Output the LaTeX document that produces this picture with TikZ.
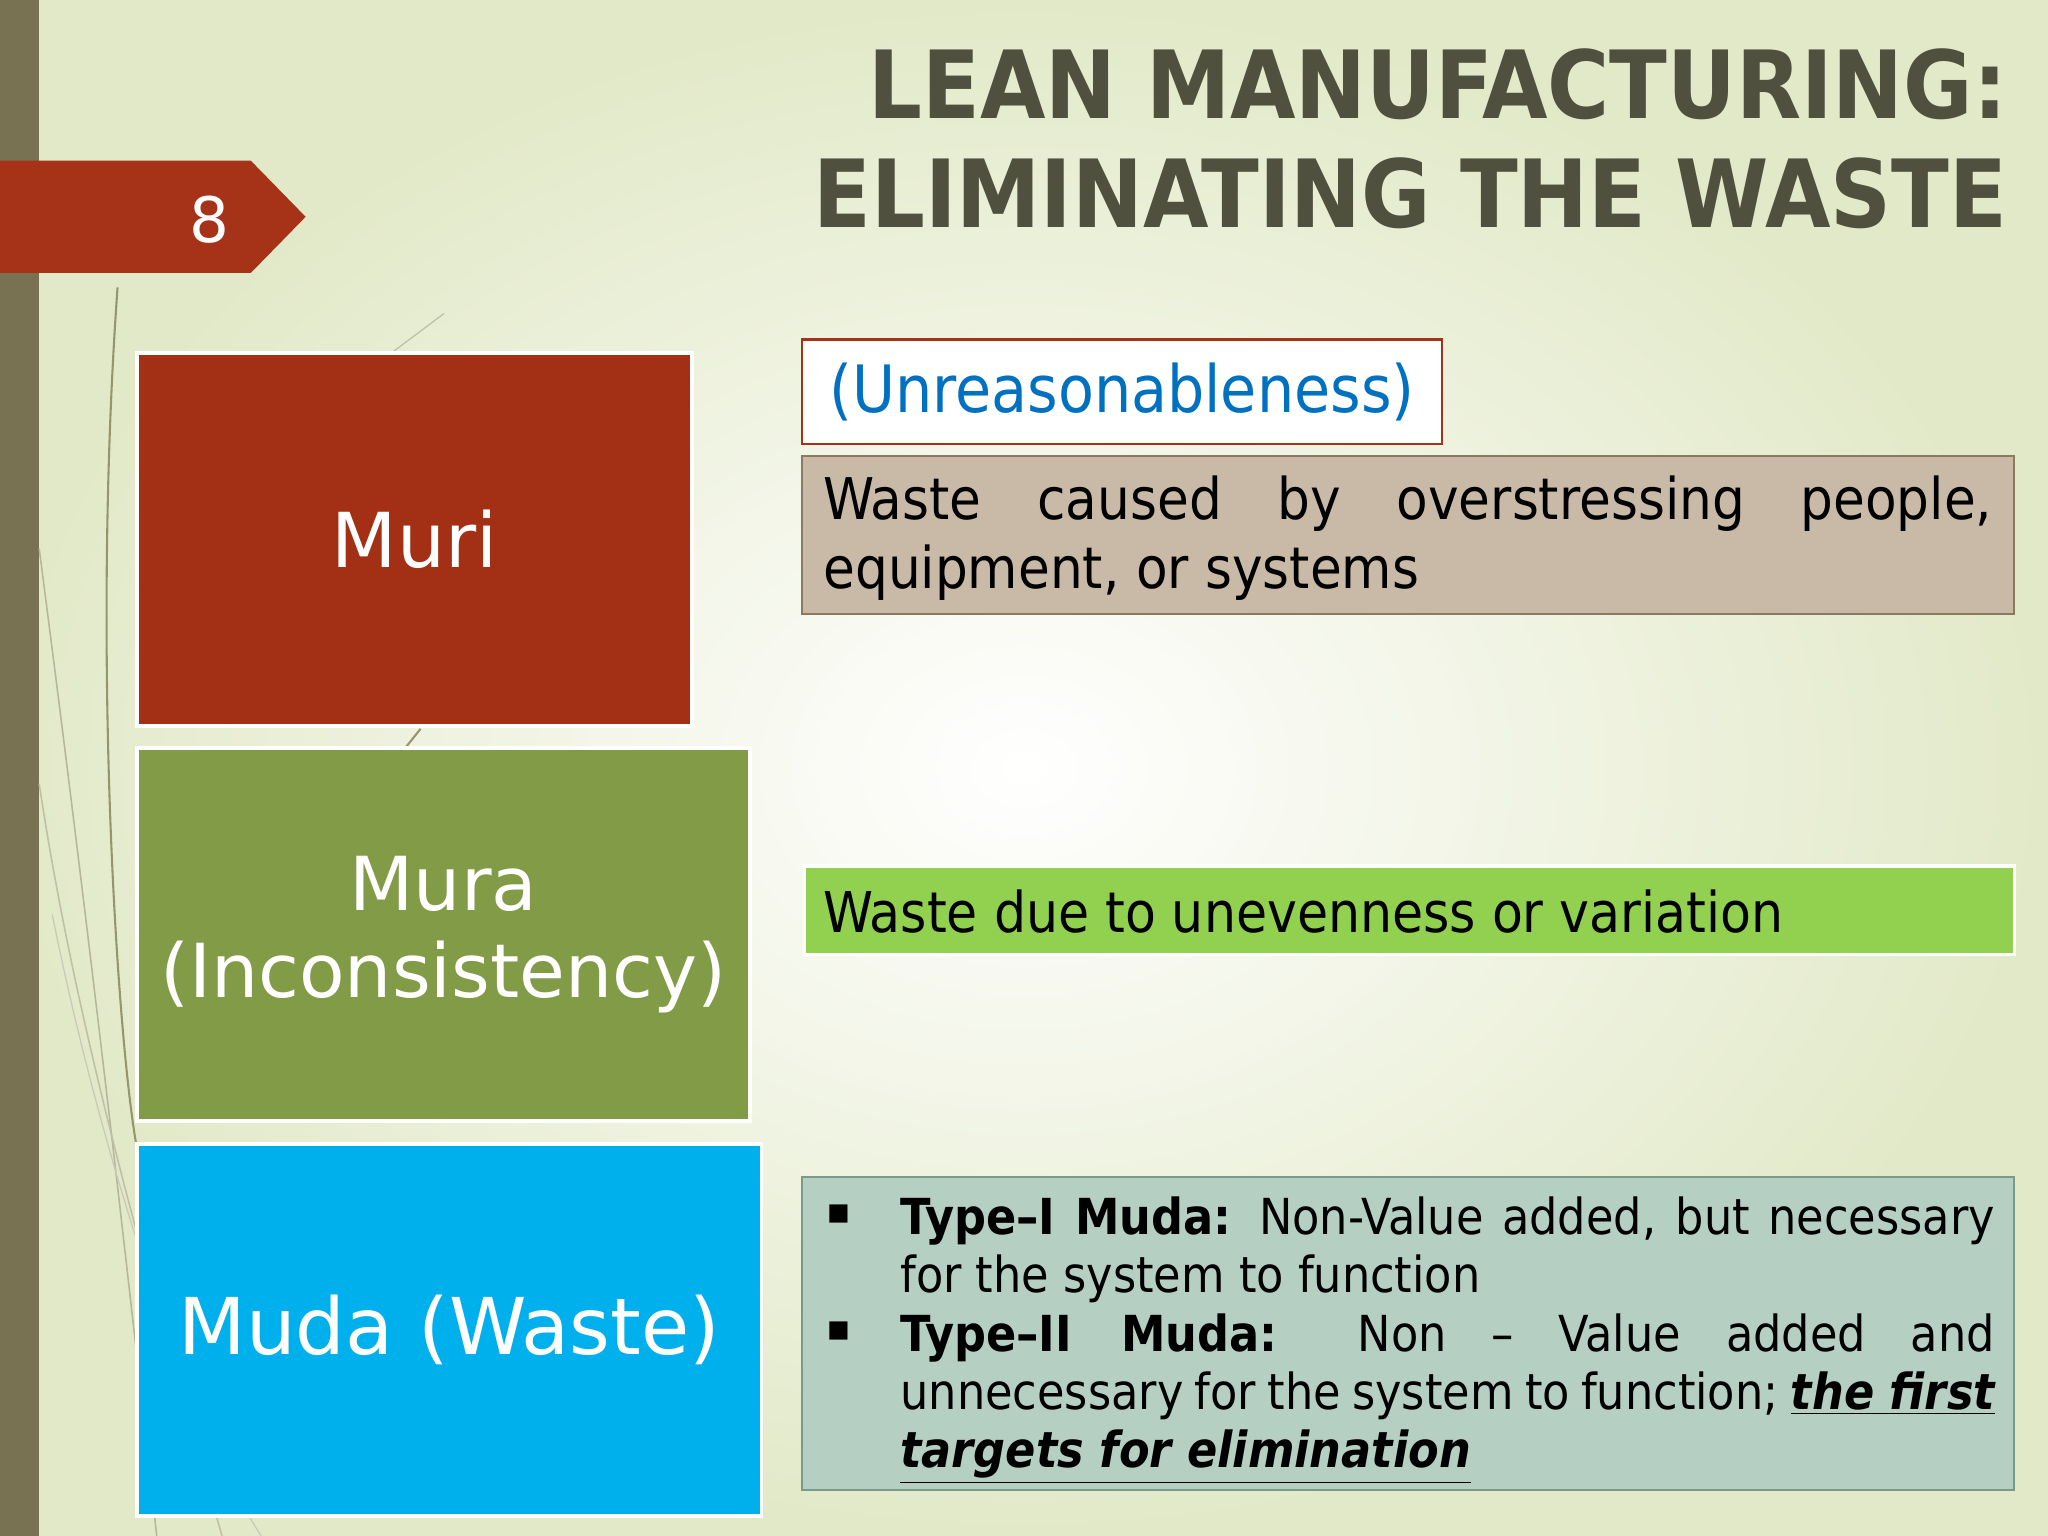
\documentclass[tikz,border=0pt]{standalone}
\usepackage{fontspec}
\setmainfont{DejaVu Sans}
\newfontfamily\condf{DejaVu Sans Condensed}
\usetikzlibrary{shadings}
\definecolor{bgc}{RGB}{226,233,200}
\definecolor{barc}{RGB}{120,113,82}
\definecolor{tagc}{RGB}{166,50,24}
\definecolor{titc}{RGB}{80,80,62}
\definecolor{muric}{RGB}{163,48,20}
\definecolor{murac}{RGB}{130,155,70}
\definecolor{mudac}{RGB}{0,176,236}
\definecolor{bluet}{RGB}{0,112,192}
\definecolor{greyb}{RGB}{201,186,168}
\definecolor{greybd}{RGB}{140,122,96}
\definecolor{greenb}{RGB}{146,208,80}
\definecolor{tealb}{RGB}{182,207,195}
\definecolor{tealbd}{RGB}{120,155,138}
\definecolor{linec}{RGB}{150,150,110}
\tikzset{
  bigbox/.style={draw=white,line width=1.5pt,text=white,align=center,inner sep=0},
  txt/.style={anchor=north west,inner sep=0,text=black}
}
\hyphenpenalty=10000
\exhyphenpenalty=10000
\begin{document}
\begin{tikzpicture}[x=0.5pt,y=-0.5pt]
\useasboundingbox (0,0) rectangle (1568,1176);
\shade[inner color=white,outer color=bgc] (0,0) rectangle (1568,1176);
\fill[barc] (0,0) rectangle (30,1176);
% decorative lines
\draw[linec,line width=0.8pt] (90,220) .. controls (70,500) and (90,800) .. (105,880);
\draw[linec!70,line width=0.6pt] (30,420) .. controls (60,650) and (90,900) .. (120,1176);
\draw[linec!60,line width=0.6pt] (30,600) .. controls (60,800) and (120,1000) .. (170,1176);
\draw[linec!50,line width=0.5pt] (40,700) .. controls (80,900) and (150,1100) .. (200,1176);
\draw[linec!60,line width=0.5pt] (300,270) -- (340,240);
\draw[linec,line width=0.8pt] (310,573) -- (322,558);
\fill[tagc] (0,123) -- (192,123) -- (234,166) -- (192,209) -- (0,209) -- cycle;
\node[text=white,font=\fontsize{24}{28}\selectfont] (num) at (160,168) {8};
% title
\node[anchor=north east,align=right,text=titc,inner sep=0,font=\condf\fontsize{36}{41.5}\selectfont\bfseries] (title) at (1537,37) {LEAN MANUFACTURING:\\ELIMINATING THE WASTE};
% left boxes
\node[bigbox,fill=muric,minimum width=212.5pt,minimum height=143pt,font=\fontsize{29}{34}\selectfont] (muri) at (317.5,413) {Muri};
\node[bigbox,fill=murac,minimum width=234.5pt,minimum height=142.5pt,font=\fontsize{28.5}{33}\selectfont] (mura) at (339.5,715.5) {Mura\\(Inconsistency)};
\node[bigbox,fill=mudac,minimum width=239pt,minimum height=142.5pt,font=\fontsize{30}{34}\selectfont] (muda) at (344,1018.5) {Muda (Waste)};
% right boxes
\node[draw=tagc,line width=1pt,fill=white,minimum width=245pt,minimum height=40pt,inner sep=0,text=bluet,font=\condf\fontsize{25}{28}\selectfont] (unr) at (859,300) {(Unreasonableness)};
\node[draw=greybd,line width=0.8pt,fill=greyb,minimum width=464pt,minimum height=60.5pt,inner sep=0] (grey) at (1078,409.5) {};
\node[txt] (greyt) at (630,364) {\parbox{447.5pt}{\condf\fontsize{22}{26.5}\selectfont Waste caused by overstressing people, equipment, or systems}};
\node[draw=white,line width=1.2pt,fill=greenb,minimum width=463pt,minimum height=34pt,inner sep=0] (green) at (1079,697) {};
\node[txt,anchor=west] (greent) at (630,698) {\condf\fontsize{21.5}{26.5}\selectfont Waste due to unevenness or variation};
\node[draw=tealbd,line width=0.8pt,fill=tealb,minimum width=464pt,minimum height=120pt,inner sep=0] (teal) at (1078,1021) {};
\node[txt] (bul1) at (632,922) {\fontsize{14}{22}\selectfont ▪};
\node[txt] (bul2) at (632,1012) {\fontsize{14}{22}\selectfont ▪};
\node[txt] (tealt) at (689,916) {\parbox{419pt}{\condf\fontsize{19}{22.3}\selectfont
\textbf{Type–I Muda:} Non-Value added, but necessary for the system to function\\
\textbf{Type–II Muda:} Non – Value added and unnecessary for the system to function; \textbf{\textit{\underline{the first}}} \textbf{\textit{\underline{targets for elimination}}}}};
\end{tikzpicture}
\end{document}
